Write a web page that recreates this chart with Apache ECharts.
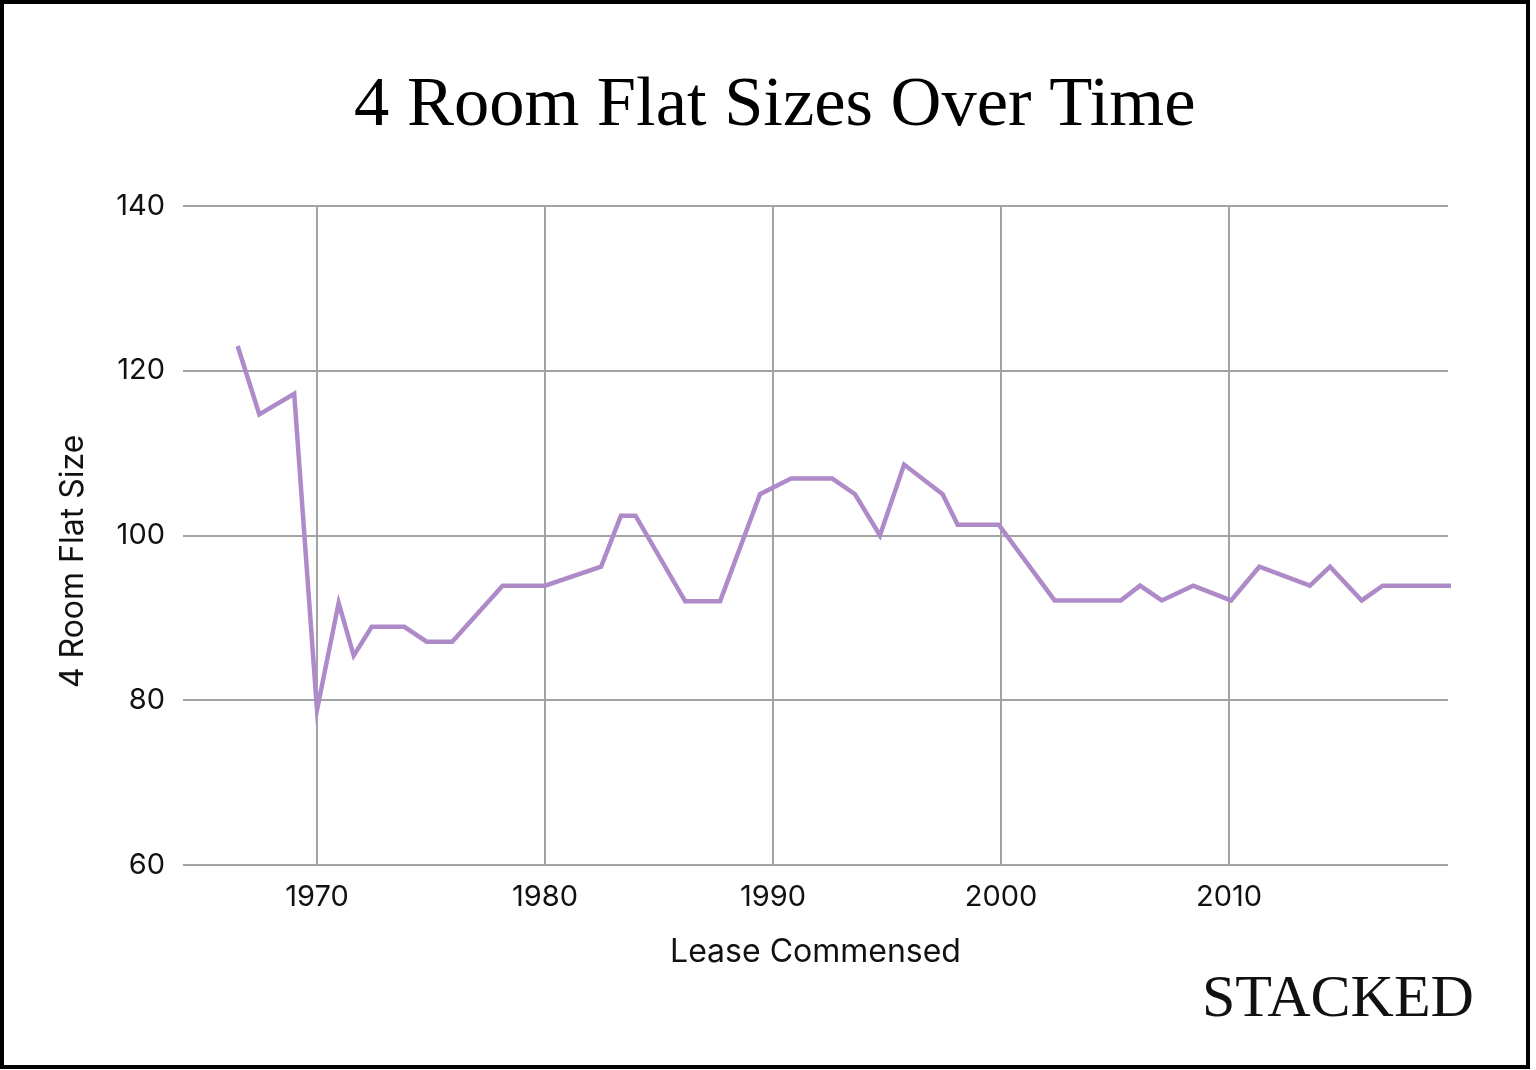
<!DOCTYPE html>
<html>
<head>
<meta charset="utf-8">
<script src="https://cdn.jsdelivr.net/npm/echarts@6/dist/echarts.min.js"></script>
<style>
html,body{margin:0;padding:0;background:#fff;}
#chart{width:1536px;height:1070px;}
</style>
</head>
<body>
<div id="chart"></div>
<script>
// Data
const leaseYears = [1966.52, 1967.47, 1969.00, 1970.00, 1970.95, 1971.61, 1972.40, 1973.83, 1974.81, 1975.93,
  1978.14, 1980.00, 1982.46, 1983.33, 1983.97, 1986.15, 1987.68, 1989.43, 1990.79, 1992.60,
  1993.60, 1994.69, 1995.75, 1997.44, 1998.10, 1999.90, 2002.35, 2005.25, 2006.10, 2007.05,
  2008.43, 2010.09, 2011.33, 2013.55, 2014.43, 2015.82, 2016.74, 2020.31];
const flatSizes = [123.0, 114.7, 117.2, 78.8, 91.8, 85.4, 88.9, 88.9, 87.1, 87.1,
  93.9, 93.9, 96.2, 102.4, 102.4, 92.0, 92.0, 105.0, 106.9, 106.9,
  105.0, 100.0, 108.6, 105.0, 101.3, 101.3, 92.1, 92.1, 93.9, 92.1,
  93.9, 92.1, 96.2, 93.9, 96.2, 92.1, 93.9, 93.9];
const xTicks = [1970, 1980, 1990, 2000, 2010];
const yTicks = [60, 80, 100, 120, 140];

const chart = echarts.init(document.getElementById('chart'), null, {renderer: 'canvas'});
const gridColor = '#a3a3a3';
chart.setOption({
  backgroundColor: '#ffffff',
  animation: false,
  title: {
    text: '4 Room Flat Sizes Over Time',
    left: 349,
    top: 66,
    textStyle: {fontFamily: 'Liberation Serif', fontSize: 70.5, fontWeight: 'normal', color: '#000'}
  },
  grid: {left: 183, top: 206, width: 1265, height: 658.8},
  xAxis: {
    type: 'value',
    min: 1964.123,
    max: 2019.605,
    name: 'Lease Commensed',
    nameLocation: 'middle',
    nameGap: 72,
    nameTextStyle: {fontFamily: 'Inter', fontSize: 32, color: '#111'},
    axisLine: {show: false},
    axisTick: {show: false, customValues: xTicks},
    axisLabel: {customValues: xTicks, formatter: v => String(v), fontFamily: 'Inter', fontSize: 29, color: '#111', margin: 18},
    splitLine: {show: true, lineStyle: {color: gridColor, width: 2}}
  },
  yAxis: {
    type: 'value',
    min: yTicks[0],
    max: yTicks[yTicks.length - 1],
    interval: 20,
    name: '4 Room Flat Size',
    nameLocation: 'middle',
    nameGap: 94,
    nameTextStyle: {fontFamily: 'Inter', fontSize: 32, color: '#111', padding: [0, 52, 0, 0]},
    axisLine: {show: false},
    axisTick: {show: false},
    axisLabel: {formatter: v => String(v), fontFamily: 'Inter', fontSize: 29, color: '#111', margin: 18},
    splitLine: {show: true, lineStyle: {color: gridColor, width: 2}}
  },
  series: [{
    type: 'line',
    data: leaseYears.map((y, i) => [y, flatSizes[i]]),
    showSymbol: false,
    clip: false,
    lineStyle: {color: '#ae8bc8', width: 4.5, cap: 'butt', join: 'miter'}
  }],
  graphic: [
    {type: 'text', left: 1202, top: 970, style: {text: 'STACKED', fontFamily: 'Liberation Serif', fontSize: 60, fill: '#111'}},
    {type: 'rect', shape: {x: 2, y: 2, width: 1526, height: 1065}, style: {fill: 'none', stroke: '#000', lineWidth: 4}, z: 100}
  ]
});
</script>
</body>
</html>
